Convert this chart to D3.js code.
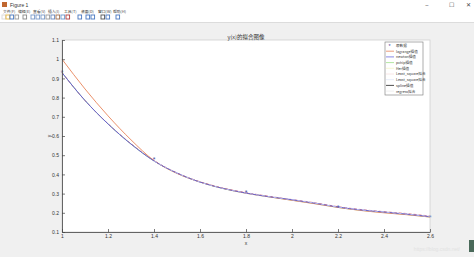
<!DOCTYPE html>
<meta charset="utf-8">
<style>
  body { margin: 0; background: #fff; }
  text { font-family: "Liberation Sans", Arial, sans-serif; }
  .cjk { font-family: "Noto Sans CJK SC", sans-serif; }
</style>
<script src="https://d3js.org/d3.v7.min.js"></script>
<svg width="474" height="257"></svg>
<script>
// tick labels
var xTicks = [1, 1.2, 1.4, 1.6, 1.8, 2, 2.2, 2.4, 2.6];
var yTicks = [0.1, 0.2, 0.3, 0.4, 0.5, 0.6, 0.7, 0.8, 0.9, 1, 1.1];

// raw data points (the * markers)
var dataX = [1, 1.4, 1.8, 2.2, 2.6];
var dataY = [0.93, 0.475, 0.303, 0.225, 0.176];

// curve sample grid and values
var gridX = [1, 1.1, 1.2, 1.3, 1.4, 1.5, 1.6, 1.7, 1.8, 1.9, 2, 2.1, 2.2, 2.3, 2.4, 2.5, 2.6];
var lagrangeY = [1.0, 0.845, 0.705, 0.58, 0.472, 0.405, 0.36, 0.327, 0.302, 0.283, 0.265, 0.247, 0.228, 0.212, 0.2, 0.19, 0.178];
var newtonY   = [0.93, 0.785, 0.663, 0.558, 0.47, 0.407, 0.36, 0.327, 0.303, 0.284, 0.268, 0.25, 0.23, 0.215, 0.204, 0.193, 0.18];
var pchipY    = [0.93, 0.785, 0.663, 0.558, 0.47, 0.406, 0.36, 0.326, 0.302, 0.283, 0.266, 0.248, 0.228, 0.213, 0.202, 0.191, 0.178];
var lsqY      = [0.93, 0.785, 0.664, 0.56, 0.472, 0.408, 0.362, 0.329, 0.305, 0.286, 0.269, 0.252, 0.232, 0.217, 0.206, 0.196, 0.183];

var legendLabels = ["原数据", "lagrange插值", "newton插值", "pchip插值", "Her插值",
  "Least_square拟合", "Least_square拟合", "spline插值", "regress拟合"];
var legendColors = [null, "#e8845a", "#6c6ce0", "#9ee08a", "#f4f4c8", "#f6e0e0", "#e0e6f6", "#222", "#eee"];

var svg = d3.select("svg");

// ---- window chrome ----
svg.append("rect").attr("width", 474).attr("height", 257).attr("fill", "#f0f0f0");
svg.append("rect").attr("width", 474).attr("height", 23).attr("fill", "#fff");
svg.append("line").attr("x1", 0).attr("x2", 474).attr("y1", 22.5).attr("y2", 22.5).attr("stroke", "#dcdcdc");
svg.append("rect").attr("x", 2).attr("y", 2).attr("width", 5).attr("height", 5).attr("fill", "#c0672f");
svg.append("text").attr("x", 10).attr("y", 6.5).attr("font-size", 5).attr("fill", "#333").text("Figure 1");
[["−", 427], ["☐", 451], ["✕", 468]].forEach(function(c) {
  svg.append("text").attr("x", c[1]).attr("y", 7).attr("font-size", 6).attr("fill", "#444")
    .attr("text-anchor", "middle").text(c[0]);
});
var menus = ["文件(F)", "编辑(E)", "查看(V)", "插入(I)", "工具(T)", "桌面(D)", "窗口(W)", "帮助(H)"];
var menuX = [3, 18, 33, 48, 64, 81, 98, 113];
menus.forEach(function(m, i) {
  svg.append("text").attr("class", "cjk").attr("x", menuX[i]).attr("y", 12.5)
    .attr("font-size", 3.8).attr("fill", "#333").text(m);
});
var iconX = [2, 6, 10, 15, 23, 31, 36, 41, 46, 51, 56, 61, 66, 78, 86, 91, 101, 106, 116];
var iconC = ["#d8d8d8", "#e8b840", "#4a78c0", "#9a9a9a", "#888", "#7a9ac8", "#7a9ac8", "#7a9ac8", "#9a9a9a",
  "#6a8ac0", "#a07050", "#6a9ad0", "#b04040", "#4a78c0", "#4a78c0", "#4a78c0", "#555", "#4a78c0", "#4a78c0"];
iconX.forEach(function(x, i) {
  svg.append("rect").attr("x", x).attr("y", 15).attr("width", 3.6).attr("height", 4)
    .attr("fill", "none").attr("stroke", iconC[i]).attr("stroke-width", 0.9);
});

// ---- axes ----
var x = d3.scaleLinear().domain([1, 2.6]).range([62, 430]);
var y = d3.scaleLinear().domain([0.1, 1.1]).range([232, 40]);

svg.append("rect").attr("x", 62).attr("y", 40).attr("width", 368).attr("height", 192)
  .attr("fill", "#fff");

var line = d3.line()
  .x(function(d) { return x(d[0]); })
  .y(function(d) { return y(d[1]); })
  .curve(d3.curveMonotoneX);

function pts(ys) { return gridX.map(function(v, i) { return [v, ys[i]]; }); }

svg.append("path").datum(pts(pchipY)).attr("d", line).attr("fill", "none")
  .attr("stroke", "#8fd07a").attr("stroke-width", 0.8);
svg.append("path").datum(pts(lsqY)).attr("d", line).attr("fill", "none")
  .attr("stroke", "#e07070").attr("stroke-width", 0.8).attr("stroke-dasharray", "3,2");
svg.append("path").datum(pts(lagrangeY)).attr("d", line).attr("fill", "none")
  .attr("stroke", "#e8845a").attr("stroke-width", 0.9);
svg.append("path").datum(pts(newtonY)).attr("d", line).attr("fill", "none")
  .attr("stroke", "#5c5cd8").attr("stroke-width", 0.9);
svg.append("path").datum(pts(newtonY).slice(4)).attr("d", line).attr("fill", "none")
  .attr("stroke", "#c0c0f0").attr("stroke-width", 0.9).attr("stroke-dasharray", "3,3");

// data markers
dataX.forEach(function(v, i) {
  svg.append("text").attr("x", x(v)).attr("y", y(dataY[i]) + 2.4).attr("text-anchor", "middle")
    .attr("font-size", 7).attr("fill", "#4a4aa0").text("*");
});

// box + ticks
svg.append("rect").attr("x", 62).attr("y", 40).attr("width", 368).attr("height", 192)
  .attr("fill", "none").attr("stroke", "#d0d0d0").attr("stroke-width", 0.8);

var gx = svg.append("g").attr("transform", "translate(0,232)")
  .call(d3.axisBottom(x).tickValues(xTicks).tickSizeInner(-3).tickSizeOuter(0).tickPadding(2.5)
    .tickFormat(function(d) { return String(+d.toFixed(1)); }));
var gy = svg.append("g").attr("transform", "translate(62,0)")
  .call(d3.axisLeft(y).tickValues(yTicks).tickSizeInner(-3).tickSizeOuter(0).tickPadding(3)
    .tickFormat(function(d) { return String(+d.toFixed(1)); }));
[gx, gy].forEach(function(g) {
  g.select(".domain").attr("stroke", "#444").attr("stroke-width", 0.8);
  g.selectAll(".tick line").attr("stroke", "#444").attr("stroke-width", 0.7);
  g.selectAll(".tick text").attr("font-size", 5).attr("fill", "#333")
    .attr("font-family", "Liberation Sans, Arial, sans-serif");
});

// labels
svg.append("text").attr("class", "cjk").attr("x", 246).attr("y", 38.5).attr("text-anchor", "middle")
  .attr("font-size", 5.5).attr("fill", "#333").text("y(x)的拟合图像");
svg.append("text").attr("x", 246).attr("y", 244.5).attr("text-anchor", "middle")
  .attr("font-size", 5).attr("fill", "#333").text("x");
svg.append("text").attr("transform", "translate(51,136) rotate(-90)").attr("text-anchor", "middle")
  .attr("font-size", 5).attr("fill", "#333").text("y");

// ---- legend ----
var lg = svg.append("g");
lg.append("rect").attr("x", 385).attr("y", 42).attr("width", 38).attr("height", 53)
  .attr("fill", "#fff").attr("stroke", "#777").attr("stroke-width", 0.6);
legendLabels.forEach(function(t, i) {
  var yy = 45.5 + i * 5.7;
  if (i === 0) {
    lg.append("text").attr("x", 389.5).attr("y", yy + 2).attr("text-anchor", "middle")
      .attr("font-size", 5.5).attr("fill", "#4a4aa0").text("*");
  } else {
    lg.append("line").attr("x1", 386).attr("x2", 394).attr("y1", yy).attr("y2", yy)
      .attr("stroke", legendColors[i]).attr("stroke-width", 0.8);
  }
  lg.append("text").attr("class", "cjk").attr("x", 396).attr("y", yy + 1.4)
    .attr("font-size", 3.6).attr("fill", "#333").text(t);
});

// watermark + corner icon
svg.append("text").attr("x", 460).attr("y", 251).attr("text-anchor", "end").attr("font-size", 5)
  .attr("fill", "#e2e2e2").text("https://blog.csdn.net/");
svg.append("rect").attr("x", 469).attr("y", 240).attr("width", 5).attr("height", 12).attr("fill", "#4a6a5a");
</script>
